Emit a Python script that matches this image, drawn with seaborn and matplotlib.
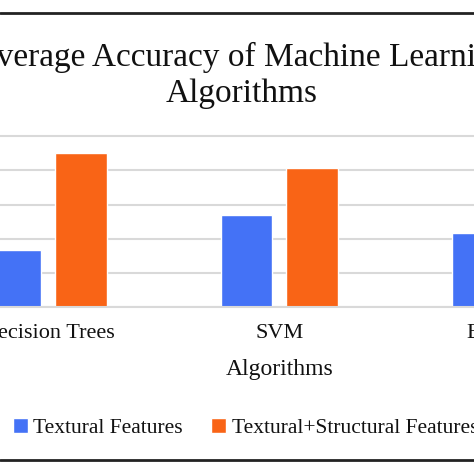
import numpy as np
import pandas as pd
import matplotlib
matplotlib.use("Agg")
import matplotlib.pyplot as plt
from matplotlib.lines import Line2D
import seaborn as sns

# DATA (y axis hidden so scale is 0.5 - 1.0)
algorithms = ["Decision Trees", "SVM", "Ensemble"]
textural = [0.667, 0.769, 0.716]
textural_structural = [0.950, 0.907, 0.880]
feature_sets = ["Textural Features", "Textural+Structural Features"]
bar_colors = ["#4472F6", "#F96416"]

df = pd.DataFrame({
    "Algorithms": algorithms * 2,
    "Accuracy": textural + textural_structural,
    "Features": [feature_sets[0]] * 3 + [feature_sets[1]] * 3,
})

sns.set_style("white")
plt.rcParams["font.family"] = ["Liberation Serif", "DejaVu Serif"]

fig = plt.figure(figsize=(4.74, 4.74), dpi=100)
# axes runs past both edges of the picture (the reference is a crop)
ax = fig.add_axes([-0.1428, 0.3517, 1.464, 0.3614 * 1.02])

sns.barplot(data=df, x="Algorithms", y="Accuracy", hue="Features",
            palette=bar_colors, width=0.568, gap=0.213, saturation=1,
            ax=ax)

ax.set_ylim(0.5, 1.01)
ax.set_yticks(np.arange(0.5, 1.01, 0.1))
ax.set_yticklabels([])
ax.yaxis.grid(True, color="#d9d9d9", linewidth=1.5)
ax.set_axisbelow(True)
for s in ["top", "left", "right"]:
    ax.spines[s].set_visible(False)
ax.spines["bottom"].set_color("#d9d9d9")
ax.spines["bottom"].set_linewidth(1.5)
ax.tick_params(axis="both", length=0)
ax.tick_params(axis="x", labelsize=16, pad=12, colors="#111111")
ax.set_ylabel("")
ax.set_xlabel("Algorithms", fontsize=17, labelpad=11.5, color="#111111")

handles, labels = ax.get_legend_handles_labels()
ax.get_legend().remove()
fig.legend(handles, labels, loc="center left", bbox_to_anchor=(13 / 474, 1 - 428 / 474),
           ncol=2, frameon=False, fontsize=15.5, handlelength=0.7, handleheight=0.7,
           handletextpad=0.25, columnspacing=1.3, borderpad=0, borderaxespad=0,
           labelcolor="#111111")

fig.text(0.5105, 1 - 42 / 474, "Average Accuracy of Machine Learning\nAlgorithms",
         ha="center", va="top", fontsize=24, linespacing=1.25, color="#111111")

# chart frame lines (top and bottom edge of the original chart box)
fig.add_artist(Line2D([0, 1], [1 - 13 / 474] * 2, color="#222222", lw=2))
fig.add_artist(Line2D([0, 1], [1 - 460 / 474] * 2, color="#222222", lw=2))

fig.savefig("out.png", dpi=100)
